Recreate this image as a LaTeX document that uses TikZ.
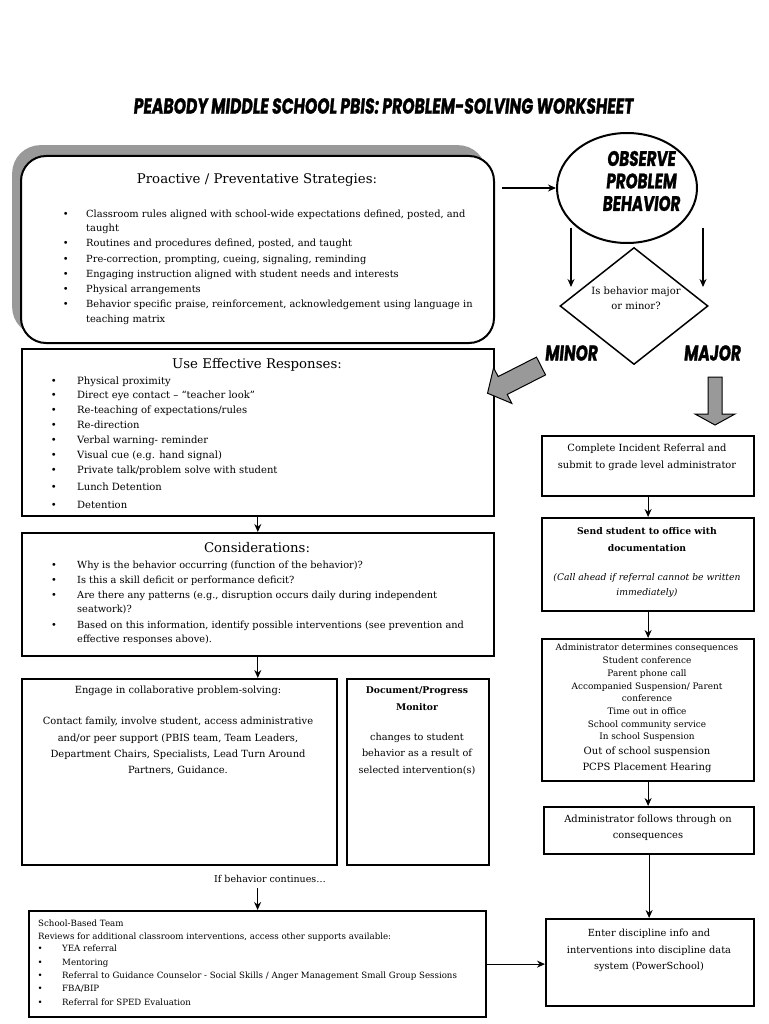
\documentclass[tikz,border=0pt]{standalone}
\usepackage{fontspec}
\setmainfont{DejaVu Serif}
\newfontfamily\comic{Poppins}[FakeStretch=0.72,FakeSlant=0.1,BoldFeatures={FakeBold=1.2}]
\usetikzlibrary{calc,arrows.meta,shapes.geometric,positioning}
\tikzset{
	box/.style={draw,line width=1.6pt,rectangle,inner sep=0pt,anchor=north west},
	heavybox/.style={box,line width=2.2pt},
	directed/.style={arrows={-Stealth[length=8pt,width=7pt]},line width=1.2pt},
	heading/.style={anchor=base,inner sep=0pt,font=\fontsize{13.3}{16}\selectfont},
	txt/.style={anchor=north,inner sep=0pt,align=center},
	bul/.style={inner sep=0pt,text height=7pt,text depth=2pt},
	item/.style={anchor=base west,inner sep=0pt,text height=7pt,text depth=2pt,label={[bul,label distance=#1]180:\textbullet}},
	item/.default=18pt,
	cont/.style={anchor=base west,inner sep=0pt},
	comictxt/.style 2 args={inner sep=0pt,align=center,font=\comic\bfseries\fontsize{#1}{#2}\selectfont},
	pics/blockarrow/.style n args={4}{code={
		\draw[fill=black!40,line width=1pt] (0,-#2) -- ({#1-#4},-#2) -- ({#1-#4},-#3) -- (#1,0) -- ({#1-#4},#3) -- ({#1-#4},#2) -- (0,#2) -- cycle;
	}}
}
\begin{document}
\begin{tikzpicture}[x=1pt,y=-1pt]
\useasboundingbox (0,0) rectangle (768,1024);
\fill[white] (0,0) rectangle (768,1024);

\node[comictxt={21.7}{22}] (title) at (383,106) {PEABODY MIDDLE SCHOOL PBIS: PROBLEM-SOLVING WORKSHEET};

% proactive strategies
\node[fill=black!40,rounded corners=28pt,minimum width=474pt,minimum height=190pt,inner sep=0pt,anchor=north west] (proshadow) at (12,145) {};
\node[draw,fill=white,rounded corners=25pt,line width=2pt,minimum width=473pt,minimum height=187pt,inner sep=0pt,anchor=north west] (pro) at (20,155) {};
\node[heading] (prohead) at (257,184) {Proactive / Preventative Strategies:};
\begin{scope}[font=\fontsize{9.85}{12}\selectfont]
\foreach \y/\t [count=\i] in {218/{Classroom rules aligned with school-wide expectations defined, posted, and},247/{Routines and procedures defined, posted, and taught},262/{Pre-correction, prompting, cueing, signaling, reminding},277/{Engaging instruction aligned with student needs and interests},292/{Physical arrangements},307/{Behavior specific praise, reinforcement, acknowledgement using language in}}
	\node[item=17pt] (pro\i) at (86,\y) {\t};
\node[cont] (pro1b) at (86,232) {taught};
\node[cont] (pro6b) at (86,322) {teaching matrix};
\end{scope}

% observe and decide
\node[ellipse,draw,line width=2pt,minimum width=140pt,minimum height=110pt,inner sep=0pt] (observe) at (627,188) {};
\node[comictxt={21}{22.5}] (observetxt) at (641,181) {OBSERVE\\PROBLEM\\BEHAVIOR};
\draw[directed] ([xshift=7pt]pro.east |- observe.west) -- (observe.west);
\node[diamond,draw,line width=1.5pt,minimum width=148pt,minimum height=117pt,inner sep=0pt] (decide) at (634,306) {};
\node[align=center,inner sep=0pt,font=\fontsize{10}{15}\selectfont] (decidetxt) at (636,298) {Is behavior major\\or minor?};
\coordinate (minorend) at (571,287);
\coordinate (majorend) at (703,287);
\draw[directed] (observe.south west -| minorend) -- (minorend);
\draw[directed] (observe.south east -| majorend) -- (majorend);
\node[comictxt={21.5}{21.5}] (minor) at (571,353) {MINOR};
\node[comictxt={21.5}{21.5}] (major) at (712,353) {MAJOR};

% minor side
\node[box,minimum width=472pt,minimum height=167pt] (resp) at (21,348) {};
\node[heading] (resphead) at (257,368) {Use Effective Responses:};
\begin{scope}[font=\fontsize{10}{12}\selectfont]
\foreach \y/\t [count=\i] in {384/{Physical proximity},398/{Direct eye contact -- ``teacher look''},413/{Re-teaching of expectations/rules},428/{Re-direction},443/{Verbal warning- reminder},458/{Visual cue (e.g. hand signal)},473/{Private talk/problem solve with student},490/{Lunch Detention},508/{Detention}}
	\node[item=20pt] (resp\i) at (77,\y) {\t};
\end{scope}
\pic[rotate=207] (minorarrow) at (541,366) {blockarrow={60}{10}{20}{17}};

\node[box,minimum width=472pt,minimum height=123pt] (cons) at (21,532) {};
\node[heading] (conshead) at (257,552) {Considerations:};
\begin{scope}[font=\fontsize{9.8}{12}\selectfont]
\foreach \y/\t [count=\i] in {568/{Why is the behavior occurring (function of the behavior)?},583/{Is this a skill deficit or performance deficit?},598/{Are there any patterns (e.g., disruption occurs daily during independent},628/{Based on this information, identify possible interventions (see prevention and}}
	\node[item=20pt] (cons\i) at (77,\y) {\t};
\node[cont] (cons3b) at (77,612) {seatwork)?};
\node[cont] (cons4b) at (77,642) {effective responses above).};
\end{scope}
\draw[directed] (resp.south) -- (cons.north);

\node[box,minimum width=315pt,minimum height=186pt] (collab) at (21,678) {};
\node[txt,font=\fontsize{9.9}{16.3}\selectfont] (collabhead) at (178,686) {Engage in collaborative problem-solving:};
\node[txt,font=\fontsize{9.9}{16.3}\selectfont] (collabtxt) at (178,717) {Contact family, involve student, access administrative\\and/or peer support (PBIS team, Team Leaders,\\Department Chairs, Specialists, Lead Turn Around\\Partners, Guidance.};
\node[box,minimum width=142pt,minimum height=186pt] (docmon) at (346,678) {};
\node[txt,font=\bfseries\fontsize{9.25}{16.5}\selectfont] (docmonhead) at (417,687) {Document/Progress\\Monitor};
\node[txt,font=\fontsize{9.7}{16.3}\selectfont] (docmontxt) at (417,733) {changes to student\\behavior as a result of\\selected intervention(s)};
\draw[directed] (cons.south) -- (cons.south |- collab.north);

\node[anchor=base,inner sep=0pt,font=\fontsize{9.5}{12}\selectfont] (continues) at (270,882) {If behavior continues…};
\node[heavybox,minimum width=457pt,minimum height=106pt] (sbt) at (28,910) {};
\draw[directed] ([yshift=-6pt]continues.south -| sbt.north) -- (sbt.north);
\begin{scope}[font=\fontsize{8.65}{12}\selectfont]
\node[cont] (sbthead) at (38,926) {School-Based Team};
\node[cont] (sbtsub) at (38,939) {Reviews for additional classroom interventions, access other supports available:};
\foreach \y/\t [count=\i] in {951/{YEA referral},965/{Mentoring},978/{Referral to Guidance Counselor - Social Skills / Anger Management Small Group Sessions},991/{FBA/BIP},1005/{Referral for SPED Evaluation}}
	\node[item=19pt] (sbt\i) at (62,\y) {\t};
\end{scope}

% major side
\node[heavybox,minimum width=212pt,minimum height=60pt] (referral) at (541,435) {};
\node[txt,font=\fontsize{9.9}{17}\selectfont] (referraltxt) at (647,444) {Complete Incident Referral and\\submit to grade level administrator};
\node[heavybox,minimum width=212pt,minimum height=93pt] (office) at (541,517) {};
\node[txt,font=\bfseries\fontsize{9.25}{17}\selectfont] (officehead) at (647,527) {Send student to office with\\documentation};
\node[txt,font=\itshape\fontsize{9.2}{15}\selectfont] (officenote) at (647,573) {(Call ahead if referral cannot be written\\immediately)};
\node[heavybox,minimum width=212pt,minimum height=142pt] (admin) at (541,638) {};
\node[txt,font=\fontsize{8.9}{12.7}\selectfont] (admintxt) at (647,644) {Administrator determines consequences\\Student conference\\Parent phone call\\Accompanied Suspension/ Parent\\conference\\Time out in office\\School community service\\In school Suspension};
\node[txt,font=\fontsize{10}{15.5}\selectfont] (admintail) at (647,747) {Out of school suspension\\PCPS Placement Hearing};
\node[heavybox,minimum width=210pt,minimum height=47pt] (follow) at (543,806) {};
\node[txt,font=\fontsize{9.9}{16}\selectfont] (followtxt) at (648,815) {Administrator follows through on\\consequences};
\node[heavybox,minimum width=208pt,minimum height=87pt] (enter) at (545,918) {};
\node[txt,font=\fontsize{9.8}{16.5}\selectfont] (entertxt) at (649,929) {Enter discipline info and\\interventions into discipline data\\system (PowerSchool)};
\pic[rotate=-90] (majorarrow) at (715,377) {blockarrow={48}{7}{20}{11}};
\draw[directed] (referral.south) -- (office.north);
\draw[directed] (office.south) -- (admin.north);
\draw[directed] (admin.south) -- (admin.south |- follow.north);
\draw[directed] (follow.south) -- (follow.south |- enter.north);
\draw[directed] (sbt.east) -- (sbt.east -| enter.west);
\end{tikzpicture}
\end{document}
